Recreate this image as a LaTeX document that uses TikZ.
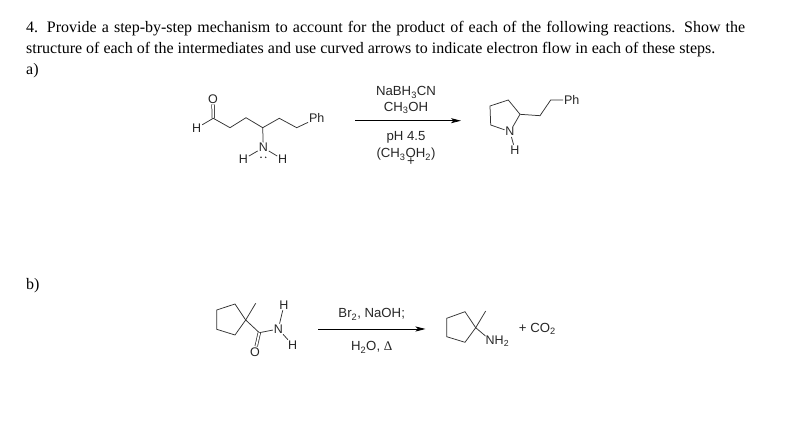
\documentclass[tikz,border=0pt]{standalone}
\usepackage{fontspec}
\setmainfont{Liberation Serif}
\setsansfont{Liberation Sans}
\usepackage{tikz}
\tikzset{
  bond/.style = {line width=0.75pt, black!80},
  rxnarrow/.style = {line width=0.8pt, -{Stealth[length=10pt, width=5pt, inset=2.5pt]}},
  atom/.style = {font=\sffamily\fontsize{12.5}{13}\selectfont, inner sep=0.8pt, text=black!85},
  reagent/.style = {font=\sffamily\fontsize{13.2}{14}\selectfont, inner sep=0pt, text=black!85},
  qtext/.style = {font=\fontsize{16}{18}\selectfont, inner sep=0pt, anchor=base west}
}
\usetikzlibrary{arrows.meta}
\newcommand{\sub}[1]{\textsubscript{#1}}

\begin{document}
\begin{tikzpicture}[x=1pt, y=-1pt]
\useasboundingbox (0,0) rectangle (788,443);

% question text
\node[qtext] (line1) at (26,33) {\makebox[719pt][s]{4. Provide a step-by-step mechanism to account for the product of each of the following reactions. Show the}};
\node[qtext] (line2) at (26,54) {structure of each of the intermediates and use curved arrows to indicate electron flow in each of these steps.};
\node[qtext] (parta) at (26,75) {a)};
\node[qtext] (partb) at (26,290) {b)};

% amino aldehyde
\coordinate (a1) at (213.3,118.3);
\coordinate (a2) at (230,127.7);
\coordinate (a3) at (246,117.7);
\coordinate (a4) at (262.7,127.7);
\coordinate (a5) at (279.3,118.3);
\coordinate (a6) at (296.7,127.7);
\node[atom] (aO) at (213,99) {O};
\node[atom] (aH) at (196.7,128) {H};
\node[atom] (aPh) at (316.7,118.3) {Ph};
\node[atom] (aN) at (263.3,147.7) {N};
\node[atom] (aHl) at (243.3,159.3) {H};
\node[atom] (aHr) at (282.7,159.3) {H};
\coordinate (alone1) at (261,157.3);
\coordinate (alone2) at (265.7,157.3);
\fill[black!85] (alone1) circle (0.8);
\fill[black!85] (alone2) circle (0.8);
\draw[bond, double, double distance=1.8pt] (a1) -- (aO);
\draw[bond] (aH) -- (a1) -- (a2) -- (a3) -- (a4) -- (a5) -- (a6) -- (aPh);
\draw[bond] (a4) -- (aN);
\draw[bond] (aN) -- (aHl);
\draw[bond] (aN) -- (aHr);

% first arrow
\coordinate (r1s) at (355,120.7);
\coordinate (r1e) at (461,120.7);
\draw[rxnarrow] (r1s) -- (r1e);
\node[reagent] (r1a) at (406,92.5) {NaBH\sub{3}CN};
\node[reagent] (r1b) at (406,108) {CH\sub{3}OH};
\node[reagent] (r1c) at (406,137.3) {pH 4.5};
\node[reagent] (r1d) at (406,154.5) {(CH\sub{3}OH\sub{2})};
\node[reagent] (r1p) at (411,161.5) {+};

% pyrrolidine
\coordinate (p1) at (490,106);
\coordinate (p2) at (508.3,100);
\coordinate (p3) at (520,114.3);
\coordinate (p5) at (490.7,125);
\coordinate (p6) at (540,115.7);
\coordinate (p7) at (550.7,100);
\node[atom] (pN) at (510,131.7) {N};
\node[atom] (pH) at (515,150) {H};
\node[atom] (pPh) at (571.7,100) {Ph};
\draw[bond] (pN) -- (p5) -- (p1) -- (p2) -- (p3) -- (pN);
\draw[bond] (p3) -- (p6) -- (p7) -- (pPh);
\draw[bond] (pN) -- (pH);

% amide
\coordinate (b1) at (216.7,310);
\coordinate (b2) at (235,304);
\coordinate (b3) at (245.7,320);
\coordinate (b4) at (235,335);
\coordinate (b5) at (216.7,329.3);
\coordinate (b6) at (255.7,303.3);
\coordinate (b7) at (259.3,332.7);
\node[atom] (bO) at (255,351.7) {O};
\node[atom] (bN) at (278.3,329) {N};
\node[atom] (bHt) at (284,305) {H};
\node[atom] (bHr) at (292.7,345) {H};
\draw[bond] (b1) -- (b2) -- (b3) -- (b4) -- (b5) -- cycle;
\draw[bond] (b3) -- (b6);
\draw[bond] (b3) -- (b7) -- (bN);
\draw[bond, double, double distance=1.8pt] (b7) -- (bO);
\draw[bond] (bN) -- (bHt);
\draw[bond] (bN) -- (bHr);

% second arrow
\coordinate (r2s) at (318,329);
\coordinate (r2e) at (425.5,329);
\draw[rxnarrow] (r2s) -- (r2e);
\node[reagent] (r2a) at (371.7,314.5) {Br\sub{2}, NaOH;};
\node[reagent] (r2b) at (371.7,347.5) {H\sub{2}O, {\rmfamily Δ}};

% amine
\coordinate (c1) at (446.7,318.3);
\coordinate (c2) at (465,311.7);
\coordinate (c3) at (475.7,327.7);
\coordinate (c4) at (465,342.3);
\coordinate (c5) at (446.7,336.7);
\coordinate (c6) at (485.7,311);
\node[atom, anchor=north west, inner sep=0pt] (cN) at (485.5,336) {NH\sub{2}};
\draw[bond] (c1) -- (c2) -- (c3) -- (c4) -- (c5) -- cycle;
\draw[bond] (c3) -- (c6);
\draw[bond] (c3) -- (cN.north west);
\node[reagent] (co2) at (537.3,329) {+ CO\sub{2}};
\end{tikzpicture}
\end{document}
